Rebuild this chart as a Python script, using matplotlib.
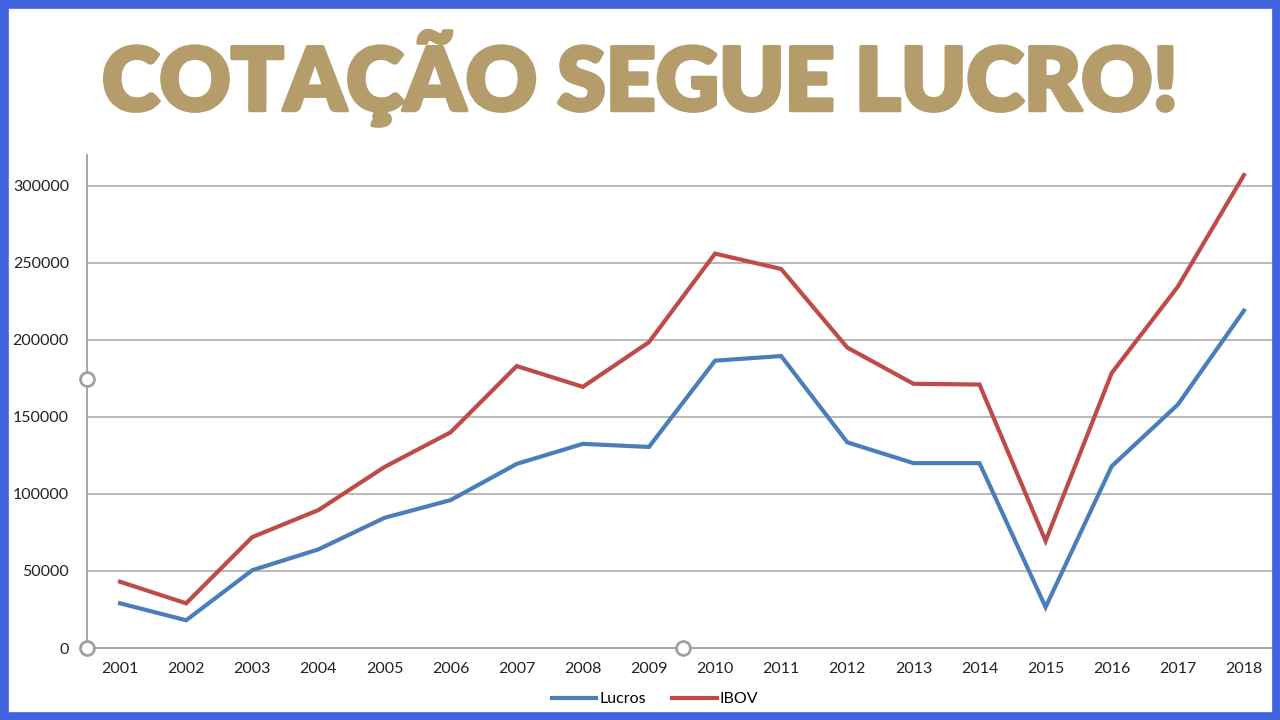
import matplotlib
matplotlib.use("Agg")
import matplotlib.pyplot as plt
import matplotlib.patheffects as pe
from matplotlib.patches import Rectangle

# DATA
years = ["2001", "2002", "2003", "2004", "2005", "2006", "2007", "2008", "2009",
         "2010", "2011", "2012", "2013", "2014", "2015", "2016", "2017", "2018"]
lucros = [29000, 18000, 50500, 64000, 84500, 96000, 119500, 132500, 130500,
          186500, 189500, 133500, 120000, 120000, 26500, 118000, 158000, 219000]
ibov = [43000, 29000, 72000, 89500, 117500, 140000, 183000, 169500, 198500,
        256000, 246000, 195000, 171500, 171000, 69500, 178500, 234500, 307000]
yticks = [0, 50000, 100000, 150000, 200000, 250000, 300000]

BLUE = "#4A7EBB"
RED = "#BE4B48"
GOLD = "#B49D6B"
FRAME = "#4263E0"

plt.rcParams["font.family"] = ["Lato", "DejaVu Sans"]

fig = plt.figure(figsize=(12.8, 7.2), dpi=100)
fig.patch.set_facecolor("white")

ax = fig.add_axes([87 / 1280, 1 - 648 / 720, 1190 / 1280, (648 - 155) / 720])
x = range(len(years))
ax.plot(x, lucros, color=BLUE, lw=3.0, label="Lucros", solid_joinstyle="miter")
ax.plot(x, ibov, color=RED, lw=3.0, label="IBOV", solid_joinstyle="miter")

ax.set_xlim(-0.5, len(years) - 0.5)
ax.set_ylim(0, 320000)
ax.set_yticks(yticks)
ax.set_yticklabels([str(v) for v in yticks])
ax.set_xticks(list(x))
ax.set_xticklabels(years)
ax.yaxis.grid(True, color="#A6A6A6", lw=1.1)
ax.set_axisbelow(True)
for side in ["top", "right"]:
    ax.spines[side].set_visible(False)
for side in ["left", "bottom"]:
    ax.spines[side].set_color("#A6A6A6")
    ax.spines[side].set_linewidth(1.4)
ax.tick_params(length=0, labelsize=11.5, labelcolor="#222222", pad=10)
ax.tick_params(axis="y", pad=13)

# selection handles left over in the screenshot
for hx, hy in [(87, 379), (87, 648), (683, 648)]:
    fig.add_artist(plt.Line2D([hx / 1280], [1 - hy / 720], marker="o", ms=10,
                              mfc="white", mec="#A0A0A0", mew=2,
                              transform=fig.transFigure, zorder=5))

fig.legend(loc="center", bbox_to_anchor=(655 / 1280, 1 - 699 / 720), ncol=2,
           frameon=False, fontsize=11.5, handlelength=2.8, handletextpad=0.2,
           columnspacing=1.6)

fig.text(0.5, 1 - 78 / 720, "COTAÇÃO SEGUE LUCRO!", ha="center", va="center",
         fontsize=63, fontweight="heavy", color=GOLD,
         path_effects=[pe.Stroke(linewidth=2.5, foreground=GOLD, joinstyle="round"),
                       pe.Normal()])

# blue frame around the picture
fig.add_artist(Rectangle((0, 0), 1, 1, transform=fig.transFigure, fill=False,
                         edgecolor=FRAME, lw=12, zorder=10))

fig.savefig("out.png", dpi=100)
